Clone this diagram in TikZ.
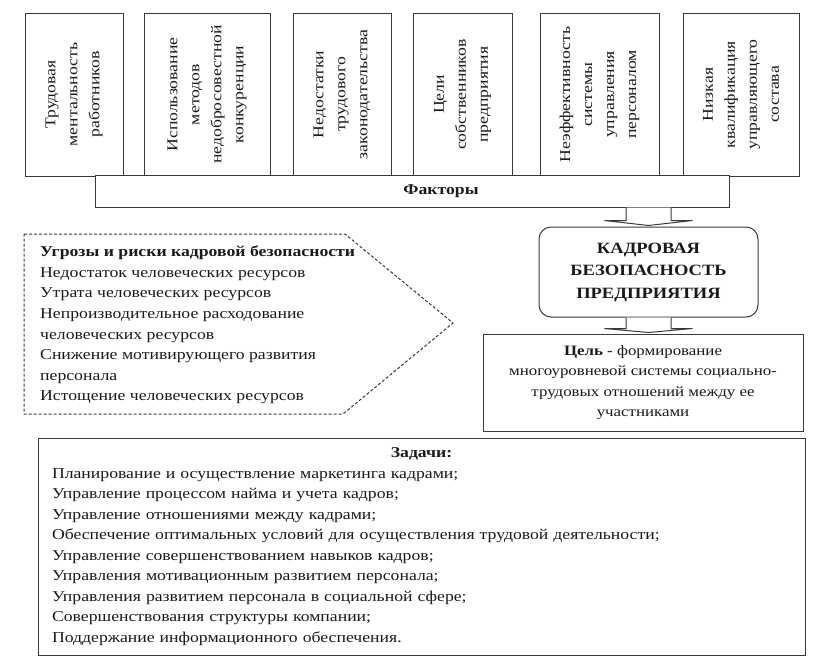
\documentclass[tikz,border=0pt]{standalone}
\usepackage{fontspec}
\setmainfont{Liberation Serif}[FakeStretch=1.18]
\usetikzlibrary{calc}
\definecolor{lc}{HTML}{3A3A3A}
\definecolor{tc}{HTML}{1A1A1A}
\begin{document}
\begin{tikzpicture}[x=1pt,y=-1pt,
  fbox/.style={draw=lc, line width=1pt, fill=white, rotate=90, minimum width=163pt,
    align=center, text=tc, font=\fontsize{15}{22}\selectfont, inner sep=0pt},
  plainbox/.style={draw=lc, line width=1pt, fill=white, inner sep=0pt, text=tc},
  body/.style={font=\fontsize{15}{20.5}\selectfont, text=tc},
  blk/.style={draw=lc, fill=white, line width=1pt, line join=miter},
  dashline/.style={draw=lc, line width=1pt, dash pattern=on 3pt off 2pt}]
\useasboundingbox[fill=white] (0,0) rectangle (838,662);

% factor boxes
\node[fbox, minimum height=98pt]  (f1) at (74,94.5)    {Трудовая\\ментальность\\работников};
\node[fbox, minimum height=126pt] (f2) at (207,94.5)   {Использование\\методов\\недобросовестной\\конкуренции};
\node[fbox, minimum height=98pt]  (f3) at (342,94.5)   {Недостатки\\трудового\\законодательства};
\node[fbox, minimum height=99pt]  (f4) at (462.5,94.5) {Цели\\собственников\\предприятия};
\node[fbox, minimum height=119pt] (f5) at (599.5,94.5) {Неэффективность\\системы\\управления\\персоналом};
\node[fbox, minimum height=116pt] (f6) at (741,94.5)   {Низкая\\квалификация\\управляющего\\состава};

% factors bar
\node[plainbox, minimum width=634pt, minimum height=32pt, font=\bfseries\fontsize{15}{18}\selectfont]
  (fact) at (412,191) {\hspace*{58pt}Факторы};

% central box
\node[plainbox, rounded corners=12pt, minimum width=219pt, minimum height=90pt, align=center,
  font=\bfseries\fontsize{15.7}{22.5}\selectfont] (kb) at (648.5,272)
  {КАДРОВАЯ\\БЕЗОПАСНОСТЬ\\ПРЕДПРИЯТИЯ};

% goal box
\node[plainbox, minimum width=320pt, minimum height=97pt, align=center,
  font=\fontsize{14.3}{20.2}\selectfont] (goal) at (643,382.5)
  {\textbf{Цель} - формирование\\многоуровневой системы социально-\\трудовых отношений между ее\\участниками};

% block arrows
\coordinate (a1) at (kb.north |- fact.south);
\draw[blk] ($(a1)+(-22.5,0)$) -- ($(kb.north)+(-22.5,-6)$) -- ($(kb.north)+(-44,-6)$)
  -- ($(kb.north)+(0,-1)$) -- ($(kb.north)+(44,-6)$) -- ($(kb.north)+(22.5,-6)$)
  -- ($(a1)+(22.5,0)$);
\coordinate (a2) at (kb.south |- goal.north);
\draw[blk] ($(kb.south)+(-22.5,0)$) -- ($(a2)+(-22.5,-5)$) -- ($(a2)+(-44,-5)$)
  -- ($(a2)+(0,-1)$) -- ($(a2)+(44,-5)$) -- ($(a2)+(22.5,-5)$)
  -- ($(kb.south)+(22.5,0)$);

% threats
\draw[dashline] (24,234) -- (345,234) -- (453,323) -- (343,414) -- (24,414) -- cycle;
\node[font=\fontsize{15}{20.6}\selectfont, text=tc, anchor=west, align=left, inner sep=0pt] (thr) at (40,325)
  {\textbf{Угрозы и риски кадровой безопасности}\\
   Недостаток человеческих ресурсов\\
   Утрата человеческих ресурсов\\
   Непроизводительное расходование\\
   человеческих ресурсов\\
   Снижение мотивирующего развития\\
   персонала\\
   Истощение человеческих ресурсов};

% tasks
\node[plainbox, body, minimum width=767pt, minimum height=217pt, text width=739pt, align=left]
  (tasks) at (421.5,546.5)
  {{\centering\textbf{Задачи:}\par}
   Планирование и осуществление маркетинга кадрами;\\
   Управление процессом найма и учета кадров;\\
   Управление отношениями между кадрами;\\
   Обеспечение оптимальных условий для осуществления трудовой деятельности;\\
   Управление совершенствованием навыков кадров;\\
   Управления мотивационным развитием персонала;\\
   Управления развитием персонала в социальной сфере;\\
   Совершенствования структуры компании;\\
   Поддержание информационного обеспечения.};
\end{tikzpicture}
\end{document}
